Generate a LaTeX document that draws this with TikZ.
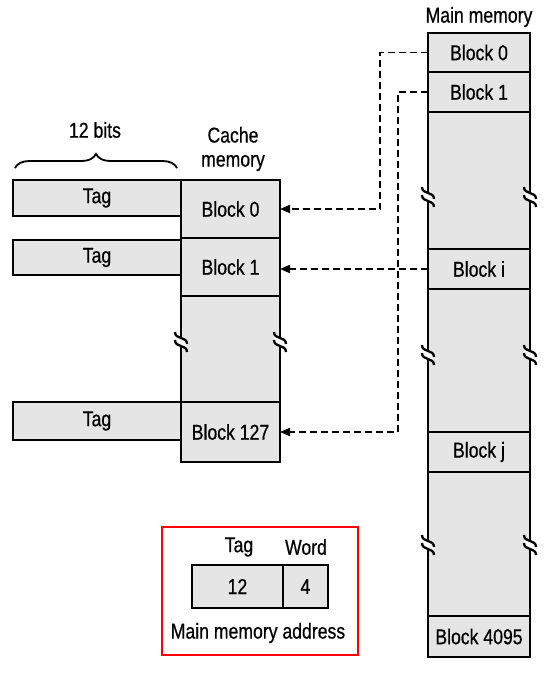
\documentclass[tikz,border=0pt]{standalone}
\usepackage{fontspec}
\setmainfont{Liberation Sans}[FakeStretch=0.82,FakeBold=0.6]
\usetikzlibrary{arrows.meta,decorations.pathreplacing}

\tikzset{every picture/.style={line width=0.75pt}}
\tikzset{
  blk/.style={draw, fill=black!10, line width=2.6pt, inner sep=0pt, outer sep=0pt,
    minimum width=102pt, font=\fontsize{21.5}{24}\selectfont},
  lbl/.style={inner sep=0pt, align=center, font=\fontsize{21.5}{24}\selectfont},
  link/.style={dash pattern=on 7pt off 4pt, line width=1.9pt, -{Triangle[length=10pt,width=8pt]}},
  brk/.pic={
    \fill[white] (-6,2) .. controls (-6,-6) and (6,-2) .. (6,-10) -- (6,-2) .. controls (6,6) and (-6,2) .. (-6,10) -- cycle;
    \draw[line width=2.3pt] (-6,2) .. controls (-6,-6) and (6,-2) .. (6,-10);
    \draw[line width=2.3pt] (-6,10) .. controls (-6,2) and (6,6) .. (6,-2);
  }
}

\begin{document}
\begin{tikzpicture}[x=1pt,y=1pt,yscale=-1,xscale=1]
\useasboundingbox (0,0) rectangle (549,689);

%Main memory column
\node[blk, minimum height=39pt] (mb0) at (479,52.5) {Block 0};
\node[blk, minimum height=40pt] (mb1) at (479,92) {Block 1};
\node[blk, minimum height=138pt] (mg1) at (479,181) {};
\node[blk, minimum height=40pt] (mbi) at (479,269) {Block i};
\node[blk, minimum height=143pt] (mg2) at (479,360.5) {};
\node[blk, minimum height=40pt] (mbj) at (479,452) {Block j};
\node[blk, minimum height=144pt] (mg3) at (479,544) {};
\node[blk, minimum height=41pt] (mb4095) at (479,636.5) {Block 4095};
% Text Node
\node[lbl] (mainlbl) at (479,17) {Main memory};

%Breaks
\pic at (428,197) {brk};
\pic at (530,197) {brk};
\pic at (428,355) {brk};
\pic at (530,355) {brk};
\pic at (428,545) {brk};
\pic at (530,545) {brk};

%Tags
\node[blk, minimum width=168pt, minimum height=36pt] (tag0) at (97,198) {Tag};
\node[blk, minimum width=168pt, minimum height=35pt] (tag1) at (97,257.5) {Tag};
\node[blk, minimum width=168pt, minimum height=38pt] (tag127) at (97,421) {Tag};

%Cache column
\node[blk, minimum width=99pt, minimum height=58pt] (cb0) at (230.5,209) {Block 0};
\node[blk, minimum width=99pt, minimum height=58pt] (cb1) at (230.5,267) {Block 1};
\node[blk, minimum width=99pt, minimum height=106pt] (cg) at (230.5,349) {};
\node[blk, minimum width=99pt, minimum height=60pt] (cb127) at (230.5,432) {Block 127};
\pic at (181,342) {brk};
\pic at (280,342) {brk};
% Text Node
\node[lbl] (cachelbl) at (233,149) {Cache\\memory};

%Brace
\draw[decorate, decoration={brace, amplitude=14pt}, line width=1.8pt] (15,168) -- (177,168);
% Text Node
\node[lbl] (bitslbl) at (95,130) {12 bits};

%Mapping links
\draw[link] (mb0.west) -- ++(-48,0) |- (cb0.east);
\draw[link] (mb1.west) -- ++(-30,0) |- (cb127.east);
\draw[link] (mbi.west) -- (mbi.west -| cb1.east);

%Address format
\node[draw=red, line width=2.8pt, minimum width=196pt, minimum height=128pt] (addr) at (260,591) {};
\node[blk, minimum width=91pt, minimum height=43pt] (atag) at (237.5,586.5) {12};
\node[blk, minimum width=45pt, minimum height=43pt] (aword) at (305.5,586.5) {4};
% Text Node
\node[lbl] (taglbl) at (239,547) {Tag};
\node[lbl] (wordlbl) at (306,547) {Word};
\node[lbl] (addrlbl) at (258,633) {Main memory address};

\end{tikzpicture}
\end{document}
